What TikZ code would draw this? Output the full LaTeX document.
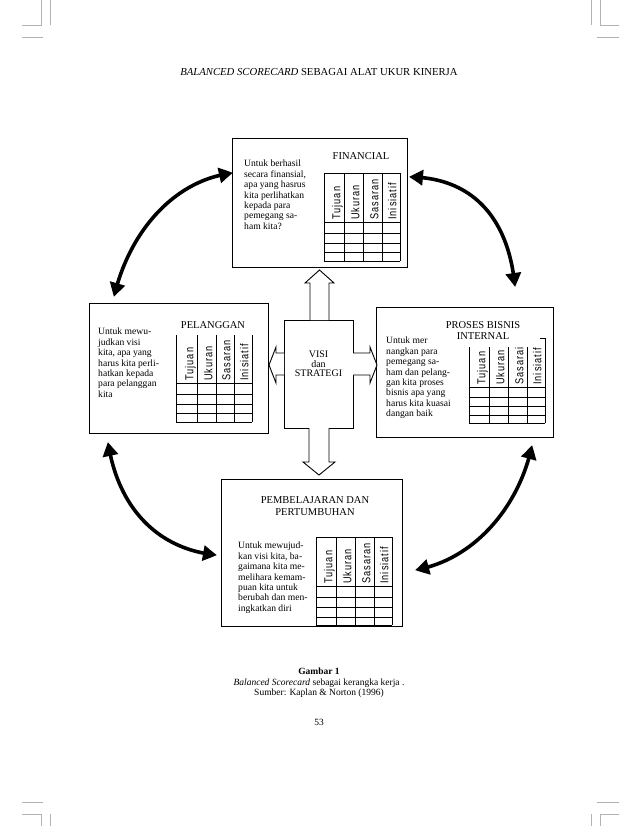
\documentclass[tikz,border=0pt]{standalone}
\usepackage{fontspec}
\setmainfont{Liberation Serif}
\newfontfamily\colfont[LetterSpace=9,FakeStretch=0.8]{Liberation Sans}
\usetikzlibrary{arrows.meta,bending}

\begin{document}
\begin{tikzpicture}[x=1pt,y=-1pt,
  box/.style={draw,line width=1.1pt,inner sep=0pt,anchor=north west},
  ttl/.style={font=\fontsize{10.5}{11.5}\selectfont,align=center,inner sep=0pt},
  body/.style={font=\fontsize{9.6}{10.4}\selectfont,align=left,inner sep=0pt,anchor=north west},
  tab/.style={line width=0.7pt},
  col/.style={font=\colfont\fontsize{11.5}{11.5}\selectfont,rotate=90,anchor=base west,inner sep=0pt},
  blk/.style={draw,line width=0.9pt,fill=white,line join=miter},
  cyc/.style={line width=3.6pt,{Triangle[length=14pt,width=15pt,bend]}-{Triangle[length=14pt,width=15pt,bend]}},
  crop/.style={draw=black!30,line width=0.8pt}
]
\useasboundingbox[fill=white] (0,0) rectangle (638,826);

% crop marks
\draw[crop] (41,0) -- (41,25) -- (22,25);
\draw[crop] (50,0) -- (50,25);
\draw[crop] (22,37) -- (43,37);
\draw[crop] (600,0) -- (600,25) -- (619,25);
\draw[crop] (591,0) -- (591,25);
\draw[crop] (597,37) -- (619,37);
\draw[crop] (22,802) -- (43,802);
\draw[crop] (22,814) -- (41,814) -- (41,826);
\draw[crop] (50,814) -- (50,826);
\draw[crop] (597,802) -- (619,802);
\draw[crop] (619,814) -- (600,814) -- (600,826);
\draw[crop] (591,814) -- (591,826);

% header
\node[font=\fontsize{10.7}{12}\selectfont,inner sep=0pt] (hdr) at (319,72)
  {\textit{BALANCED SCORECARD} SEBAGAI ALAT UKUR KINERJA};

% boxes
\node[box,minimum width=175pt,minimum height=129pt] (fin) at (232,138) {};
\node[box,minimum width=179pt,minimum height=130pt] (pel) at (89,303) {};
\node[box,minimum width=177pt,minimum height=130pt] (pro) at (376,307) {};
\node[box,minimum width=69pt,minimum height=108pt] (visi) at (284,320) {};
\node[box,minimum width=181pt,minimum height=147pt] (pem) at (221,479) {};

% titles
\node[ttl] (finT) at (361,156) {FINANCIAL};
\node[ttl] (pelT) at (213,325) {PELANGGAN};
\node[ttl] (proT) at (483,330.5) {PROSES BISNIS\\INTERNAL};
\node[ttl] (pemT) at (315,506) {PEMBELAJARAN DAN\\PERTUMBUHAN};
\node[ttl,font=\fontsize{10}{9.5}\selectfont] (visiT) at (318.5,364) {VISI\\dan\\STRATEGI};

% body texts
\node[body] (finB) at (244,160) {Untuk berhasil\\secara finansial,\\apa yang hasrus\\kita perlihatkan\\kepada para\\pemegang sa-\\ham kita?};
\node[body] (pelB) at (98,328) {Untuk mewu-\\judkan visi\\kita, apa yang\\harus kita perli-\\hatkan kepada\\para pelanggan\\kita};
\node[body] (proB) at (386,337) {Untuk mer\\nangkan para\\pemegang sa-\\ham dan pelang-\\gan kita proses\\bisnis apa yang\\harus kita kuasai\\dangan baik};
\node[body] (pemB) at (238,542) {Untuk mewujud-\\kan visi kita, ba-\\gaimana kita me-\\melihara kemam-\\puan kita untuk\\berubah dan men-\\ingkatkan diri};

% tables
% financial
\foreach \xx in {324,344,363,382,400} {\draw[tab] (\xx,173) -- (\xx,261);}
\foreach \yy in {173,222,233,243,252,261} {\draw[tab] (324,\yy) -- (400,\yy);}
% pelanggan
\foreach \xx in {176,197,216,234,252} {\draw[tab] (\xx,335) -- (\xx,422);}
\foreach \yy in {383,394,404,413,422} {\draw[tab] (176,\yy) -- (252,\yy);}
% proses
\foreach \xx in {469,489,508,527} {\draw[tab] (\xx,347) -- (\xx,423);}
\draw[tab] (540,338) -- (545,338) -- (545,423);
\foreach \yy in {387,397,406,415,423} {\draw[tab] (469,\yy) -- (545,\yy);}
% pembelajaran
\foreach \xx in {316,336,355,374,392} {\draw[tab] (\xx,537) -- (\xx,625);}
\foreach \yy in {537,586,597,607,617,625} {\draw[tab] (316,\yy) -- (392,\yy);}

% column labels
\foreach \r/\t [count=\i] in {344/Tujuan,363/Ukuran,382/Sasaran,400/Inisiatif}
  {\node[col] (finC\i) at (\r-3.6,220) {\t};}
\foreach \r/\t [count=\i] in {197/Tujuan,216/Ukuran,234/Sasaran,252/Inisiatif}
  {\node[col] (pelC\i) at (\r-3.6,381) {\t};}
\foreach \r/\t [count=\i] in {489/Tujuan,508/Ukuran,527/Sasarai,545/Inisiatif}
  {\node[col] (proC\i) at (\r-3.6,385) {\t};}
\foreach \r/\t [count=\i] in {336/Tujuan,355/Ukuran,374/Sasaran,392/Inisiatif}
  {\node[col] (pemC\i) at (\r-3.6,584) {\t};}

% hollow block arrows from VISI
\draw[blk] (310,320) -- (310,283) -- (305,283) -- (319.5,270) -- (334,283) -- (329,283) -- (329,320);
\draw[blk] (309,428) -- (309,462) -- (303,462) -- (319,475) -- (335,462) -- (329,462) -- (329,428);
\draw[blk] (353,353) -- (370,353) -- (370,347) -- (377,365) -- (370,383) -- (370,375) -- (353,375);
\draw[blk] (284,353) -- (276,353) -- (276,347) -- (269,365) -- (276,383) -- (276,375) -- (284,375);

% cycle arrows
\coordinate (c1a) at (114,297);
\coordinate (c1b) at (233,173);
\coordinate (c2a) at (409,177);
\coordinate (c2b) at (515,287);
\coordinate (c3a) at (108,442);
\coordinate (c3b) at (217,555);
\coordinate (c4a) at (532,445);
\coordinate (c4b) at (415,570);
\draw[cyc] (c1a) .. controls (128,235) and (172,180) .. (c1b);
\draw[cyc] (c2a) .. controls (465,177) and (508,210) .. (c2b);
\draw[cyc] (c3a) .. controls (118,510) and (160,550) .. (c3b);
\draw[cyc] (c4a) .. controls (520,505) and (475,560) .. (c4b);

% caption
\node[font=\fontsize{9.5}{10.5}\selectfont,align=center,inner sep=0pt] (cap) at (319,683)
  {\textbf{Gambar 1}\\\textit{Balanced Scorecard} sebagai kerangka kerja .\\Sumber: Kaplan \& Norton (1996)};
\node[font=\fontsize{9.5}{10.5}\selectfont,inner sep=0pt] (pg) at (319,722) {53};
\end{tikzpicture}
\end{document}
